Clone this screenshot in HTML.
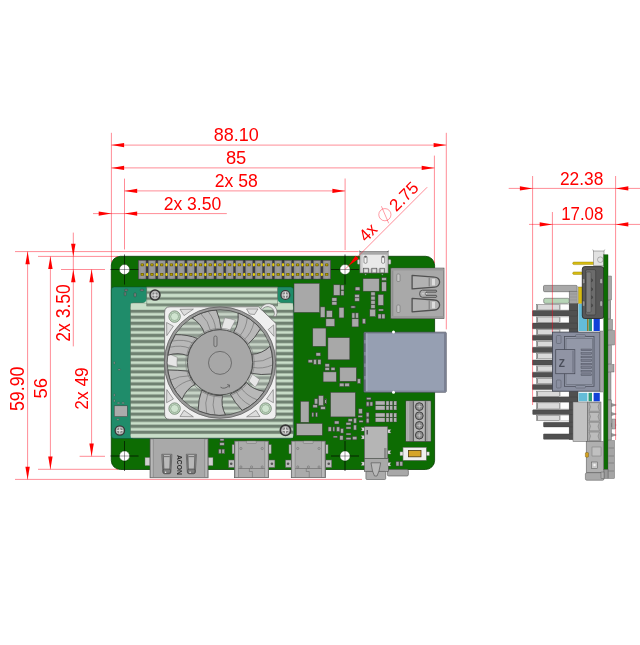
<!DOCTYPE html>
<html><head><meta charset="utf-8"><style>
html,body{margin:0;padding:0;background:#fff;}
svg{display:block;will-change:transform;}
text{font-family:"Liberation Sans",sans-serif;}
</style></head><body>
<svg width="640" height="645" viewBox="0 0 640 645">
<rect width="640" height="645" fill="#fff"/>
<rect x="111.3" y="256.3" width="323.3" height="213.2" fill="#0d6c03" stroke="#073d02" stroke-width="0.8" rx="9"/>
<circle cx="124.5" cy="269.5" r="5.1" fill="#ffffff" stroke="#0a4a04" stroke-width="0.5"/>
<circle cx="345" cy="269.5" r="5.1" fill="#ffffff" stroke="#0a4a04" stroke-width="0.5"/>
<circle cx="124.5" cy="456" r="5.1" fill="#ffffff" stroke="#0a4a04" stroke-width="0.5"/>
<circle cx="345" cy="456" r="5.1" fill="#ffffff" stroke="#0a4a04" stroke-width="0.5"/>
<line x1="110.5" y1="269.5" x2="138.5" y2="269.5" stroke="rgba(0,0,0,0.75)" stroke-width="0.5"/>
<line x1="124.5" y1="254.5" x2="124.5" y2="284.5" stroke="rgba(0,0,0,0.75)" stroke-width="0.5"/>
<line x1="331" y1="269.5" x2="359" y2="269.5" stroke="rgba(0,0,0,0.75)" stroke-width="0.5"/>
<line x1="345" y1="254.5" x2="345" y2="284.5" stroke="rgba(0,0,0,0.75)" stroke-width="0.5"/>
<line x1="110.5" y1="456" x2="138.5" y2="456" stroke="rgba(0,0,0,0.75)" stroke-width="0.5"/>
<line x1="124.5" y1="441" x2="124.5" y2="471" stroke="rgba(0,0,0,0.75)" stroke-width="0.5"/>
<line x1="331" y1="456" x2="359" y2="456" stroke="rgba(0,0,0,0.75)" stroke-width="0.5"/>
<line x1="345" y1="441" x2="345" y2="471" stroke="rgba(0,0,0,0.75)" stroke-width="0.5"/>
<rect x="138.5" y="260.3" width="191.99" height="18.7" fill="#38383f" stroke="#2a2a2a" stroke-width="0.5"/>
<rect x="138.5" y="260.3" width="7.5" height="18.7" fill="#959595" stroke="#4a4a4a" stroke-width="0.5"/>
<rect x="140.8" y="261" width="2.9" height="17.4" fill="#9b9b9b"/>
<rect x="148.21" y="260.3" width="7.5" height="18.7" fill="#959595" stroke="#4a4a4a" stroke-width="0.5"/>
<rect x="150.51" y="261" width="2.9" height="17.4" fill="#9b9b9b"/>
<rect x="157.92" y="260.3" width="7.5" height="18.7" fill="#959595" stroke="#4a4a4a" stroke-width="0.5"/>
<rect x="160.22" y="261" width="2.9" height="17.4" fill="#9b9b9b"/>
<rect x="167.63" y="260.3" width="7.5" height="18.7" fill="#959595" stroke="#4a4a4a" stroke-width="0.5"/>
<rect x="169.93" y="261" width="2.9" height="17.4" fill="#9b9b9b"/>
<rect x="177.34" y="260.3" width="7.5" height="18.7" fill="#959595" stroke="#4a4a4a" stroke-width="0.5"/>
<rect x="179.64" y="261" width="2.9" height="17.4" fill="#9b9b9b"/>
<rect x="187.05" y="260.3" width="7.5" height="18.7" fill="#959595" stroke="#4a4a4a" stroke-width="0.5"/>
<rect x="189.35" y="261" width="2.9" height="17.4" fill="#9b9b9b"/>
<rect x="196.76" y="260.3" width="7.5" height="18.7" fill="#959595" stroke="#4a4a4a" stroke-width="0.5"/>
<rect x="199.06" y="261" width="2.9" height="17.4" fill="#9b9b9b"/>
<rect x="206.47" y="260.3" width="7.5" height="18.7" fill="#959595" stroke="#4a4a4a" stroke-width="0.5"/>
<rect x="208.77" y="261" width="2.9" height="17.4" fill="#9b9b9b"/>
<rect x="216.18" y="260.3" width="7.5" height="18.7" fill="#959595" stroke="#4a4a4a" stroke-width="0.5"/>
<rect x="218.48" y="261" width="2.9" height="17.4" fill="#9b9b9b"/>
<rect x="225.89" y="260.3" width="7.5" height="18.7" fill="#959595" stroke="#4a4a4a" stroke-width="0.5"/>
<rect x="228.19" y="261" width="2.9" height="17.4" fill="#9b9b9b"/>
<rect x="235.6" y="260.3" width="7.5" height="18.7" fill="#959595" stroke="#4a4a4a" stroke-width="0.5"/>
<rect x="237.9" y="261" width="2.9" height="17.4" fill="#9b9b9b"/>
<rect x="245.31" y="260.3" width="7.5" height="18.7" fill="#959595" stroke="#4a4a4a" stroke-width="0.5"/>
<rect x="247.61" y="261" width="2.9" height="17.4" fill="#9b9b9b"/>
<rect x="255.02" y="260.3" width="7.5" height="18.7" fill="#959595" stroke="#4a4a4a" stroke-width="0.5"/>
<rect x="257.32" y="261" width="2.9" height="17.4" fill="#9b9b9b"/>
<rect x="264.73" y="260.3" width="7.5" height="18.7" fill="#959595" stroke="#4a4a4a" stroke-width="0.5"/>
<rect x="267.03" y="261" width="2.9" height="17.4" fill="#9b9b9b"/>
<rect x="274.44" y="260.3" width="7.5" height="18.7" fill="#959595" stroke="#4a4a4a" stroke-width="0.5"/>
<rect x="276.74" y="261" width="2.9" height="17.4" fill="#9b9b9b"/>
<rect x="284.15" y="260.3" width="7.5" height="18.7" fill="#959595" stroke="#4a4a4a" stroke-width="0.5"/>
<rect x="286.45" y="261" width="2.9" height="17.4" fill="#9b9b9b"/>
<rect x="293.86" y="260.3" width="7.5" height="18.7" fill="#959595" stroke="#4a4a4a" stroke-width="0.5"/>
<rect x="296.16" y="261" width="2.9" height="17.4" fill="#9b9b9b"/>
<rect x="303.57" y="260.3" width="7.5" height="18.7" fill="#959595" stroke="#4a4a4a" stroke-width="0.5"/>
<rect x="305.87" y="261" width="2.9" height="17.4" fill="#9b9b9b"/>
<rect x="313.28" y="260.3" width="7.5" height="18.7" fill="#959595" stroke="#4a4a4a" stroke-width="0.5"/>
<rect x="315.58" y="261" width="2.9" height="17.4" fill="#9b9b9b"/>
<rect x="322.99" y="260.3" width="7.5" height="18.7" fill="#959595" stroke="#4a4a4a" stroke-width="0.5"/>
<rect x="325.29" y="261" width="2.9" height="17.4" fill="#9b9b9b"/>
<rect x="140.65" y="263.4" width="3.2" height="2.8" fill="#6a5c00" rx="0.6"/>
<circle cx="142.25" cy="264.8" r="1" fill="#b8a200"/>
<ellipse cx="147.1" cy="264.8" rx="1.1" ry="1.7" fill="#e6d010"/>
<rect x="140.65" y="273" width="3.2" height="2.8" fill="#6a5c00" rx="0.6"/>
<circle cx="142.25" cy="274.4" r="1" fill="#b8a200"/>
<ellipse cx="147.1" cy="274.4" rx="1.1" ry="1.7" fill="#e6d010"/>
<rect x="150.36" y="263.4" width="3.2" height="2.8" fill="#6a5c00" rx="0.6"/>
<circle cx="151.96" cy="264.8" r="1" fill="#b8a200"/>
<ellipse cx="156.81" cy="264.8" rx="1.1" ry="1.7" fill="#e6d010"/>
<rect x="150.36" y="273" width="3.2" height="2.8" fill="#6a5c00" rx="0.6"/>
<circle cx="151.96" cy="274.4" r="1" fill="#b8a200"/>
<ellipse cx="156.81" cy="274.4" rx="1.1" ry="1.7" fill="#e6d010"/>
<rect x="160.07" y="263.4" width="3.2" height="2.8" fill="#6a5c00" rx="0.6"/>
<circle cx="161.67" cy="264.8" r="1" fill="#b8a200"/>
<ellipse cx="166.52" cy="264.8" rx="1.1" ry="1.7" fill="#e6d010"/>
<rect x="160.07" y="273" width="3.2" height="2.8" fill="#6a5c00" rx="0.6"/>
<circle cx="161.67" cy="274.4" r="1" fill="#b8a200"/>
<ellipse cx="166.52" cy="274.4" rx="1.1" ry="1.7" fill="#e6d010"/>
<rect x="169.78" y="263.4" width="3.2" height="2.8" fill="#6a5c00" rx="0.6"/>
<circle cx="171.38" cy="264.8" r="1" fill="#b8a200"/>
<ellipse cx="176.23" cy="264.8" rx="1.1" ry="1.7" fill="#e6d010"/>
<rect x="169.78" y="273" width="3.2" height="2.8" fill="#6a5c00" rx="0.6"/>
<circle cx="171.38" cy="274.4" r="1" fill="#b8a200"/>
<ellipse cx="176.23" cy="274.4" rx="1.1" ry="1.7" fill="#e6d010"/>
<rect x="179.49" y="263.4" width="3.2" height="2.8" fill="#6a5c00" rx="0.6"/>
<circle cx="181.09" cy="264.8" r="1" fill="#b8a200"/>
<ellipse cx="185.94" cy="264.8" rx="1.1" ry="1.7" fill="#e6d010"/>
<rect x="179.49" y="273" width="3.2" height="2.8" fill="#6a5c00" rx="0.6"/>
<circle cx="181.09" cy="274.4" r="1" fill="#b8a200"/>
<ellipse cx="185.94" cy="274.4" rx="1.1" ry="1.7" fill="#e6d010"/>
<rect x="189.2" y="263.4" width="3.2" height="2.8" fill="#6a5c00" rx="0.6"/>
<circle cx="190.8" cy="264.8" r="1" fill="#b8a200"/>
<ellipse cx="195.65" cy="264.8" rx="1.1" ry="1.7" fill="#e6d010"/>
<rect x="189.2" y="273" width="3.2" height="2.8" fill="#6a5c00" rx="0.6"/>
<circle cx="190.8" cy="274.4" r="1" fill="#b8a200"/>
<ellipse cx="195.65" cy="274.4" rx="1.1" ry="1.7" fill="#e6d010"/>
<rect x="198.91" y="263.4" width="3.2" height="2.8" fill="#6a5c00" rx="0.6"/>
<circle cx="200.51" cy="264.8" r="1" fill="#b8a200"/>
<ellipse cx="205.36" cy="264.8" rx="1.1" ry="1.7" fill="#e6d010"/>
<rect x="198.91" y="273" width="3.2" height="2.8" fill="#6a5c00" rx="0.6"/>
<circle cx="200.51" cy="274.4" r="1" fill="#b8a200"/>
<ellipse cx="205.36" cy="274.4" rx="1.1" ry="1.7" fill="#e6d010"/>
<rect x="208.62" y="263.4" width="3.2" height="2.8" fill="#6a5c00" rx="0.6"/>
<circle cx="210.22" cy="264.8" r="1" fill="#b8a200"/>
<ellipse cx="215.07" cy="264.8" rx="1.1" ry="1.7" fill="#e6d010"/>
<rect x="208.62" y="273" width="3.2" height="2.8" fill="#6a5c00" rx="0.6"/>
<circle cx="210.22" cy="274.4" r="1" fill="#b8a200"/>
<ellipse cx="215.07" cy="274.4" rx="1.1" ry="1.7" fill="#e6d010"/>
<rect x="218.33" y="263.4" width="3.2" height="2.8" fill="#6a5c00" rx="0.6"/>
<circle cx="219.93" cy="264.8" r="1" fill="#b8a200"/>
<ellipse cx="224.78" cy="264.8" rx="1.1" ry="1.7" fill="#e6d010"/>
<rect x="218.33" y="273" width="3.2" height="2.8" fill="#6a5c00" rx="0.6"/>
<circle cx="219.93" cy="274.4" r="1" fill="#b8a200"/>
<ellipse cx="224.78" cy="274.4" rx="1.1" ry="1.7" fill="#e6d010"/>
<rect x="228.04" y="263.4" width="3.2" height="2.8" fill="#6a5c00" rx="0.6"/>
<circle cx="229.64" cy="264.8" r="1" fill="#b8a200"/>
<ellipse cx="234.49" cy="264.8" rx="1.1" ry="1.7" fill="#e6d010"/>
<rect x="228.04" y="273" width="3.2" height="2.8" fill="#6a5c00" rx="0.6"/>
<circle cx="229.64" cy="274.4" r="1" fill="#b8a200"/>
<ellipse cx="234.49" cy="274.4" rx="1.1" ry="1.7" fill="#e6d010"/>
<rect x="237.75" y="263.4" width="3.2" height="2.8" fill="#6a5c00" rx="0.6"/>
<circle cx="239.35" cy="264.8" r="1" fill="#b8a200"/>
<ellipse cx="244.2" cy="264.8" rx="1.1" ry="1.7" fill="#e6d010"/>
<rect x="237.75" y="273" width="3.2" height="2.8" fill="#6a5c00" rx="0.6"/>
<circle cx="239.35" cy="274.4" r="1" fill="#b8a200"/>
<ellipse cx="244.2" cy="274.4" rx="1.1" ry="1.7" fill="#e6d010"/>
<rect x="247.46" y="263.4" width="3.2" height="2.8" fill="#6a5c00" rx="0.6"/>
<circle cx="249.06" cy="264.8" r="1" fill="#b8a200"/>
<ellipse cx="253.91" cy="264.8" rx="1.1" ry="1.7" fill="#e6d010"/>
<rect x="247.46" y="273" width="3.2" height="2.8" fill="#6a5c00" rx="0.6"/>
<circle cx="249.06" cy="274.4" r="1" fill="#b8a200"/>
<ellipse cx="253.91" cy="274.4" rx="1.1" ry="1.7" fill="#e6d010"/>
<rect x="257.17" y="263.4" width="3.2" height="2.8" fill="#6a5c00" rx="0.6"/>
<circle cx="258.77" cy="264.8" r="1" fill="#b8a200"/>
<ellipse cx="263.62" cy="264.8" rx="1.1" ry="1.7" fill="#e6d010"/>
<rect x="257.17" y="273" width="3.2" height="2.8" fill="#6a5c00" rx="0.6"/>
<circle cx="258.77" cy="274.4" r="1" fill="#b8a200"/>
<ellipse cx="263.62" cy="274.4" rx="1.1" ry="1.7" fill="#e6d010"/>
<rect x="266.88" y="263.4" width="3.2" height="2.8" fill="#6a5c00" rx="0.6"/>
<circle cx="268.48" cy="264.8" r="1" fill="#b8a200"/>
<ellipse cx="273.33" cy="264.8" rx="1.1" ry="1.7" fill="#e6d010"/>
<rect x="266.88" y="273" width="3.2" height="2.8" fill="#6a5c00" rx="0.6"/>
<circle cx="268.48" cy="274.4" r="1" fill="#b8a200"/>
<ellipse cx="273.33" cy="274.4" rx="1.1" ry="1.7" fill="#e6d010"/>
<rect x="276.59" y="263.4" width="3.2" height="2.8" fill="#6a5c00" rx="0.6"/>
<circle cx="278.19" cy="264.8" r="1" fill="#b8a200"/>
<ellipse cx="283.04" cy="264.8" rx="1.1" ry="1.7" fill="#e6d010"/>
<rect x="276.59" y="273" width="3.2" height="2.8" fill="#6a5c00" rx="0.6"/>
<circle cx="278.19" cy="274.4" r="1" fill="#b8a200"/>
<ellipse cx="283.04" cy="274.4" rx="1.1" ry="1.7" fill="#e6d010"/>
<rect x="286.3" y="263.4" width="3.2" height="2.8" fill="#6a5c00" rx="0.6"/>
<circle cx="287.9" cy="264.8" r="1" fill="#b8a200"/>
<ellipse cx="292.75" cy="264.8" rx="1.1" ry="1.7" fill="#e6d010"/>
<rect x="286.3" y="273" width="3.2" height="2.8" fill="#6a5c00" rx="0.6"/>
<circle cx="287.9" cy="274.4" r="1" fill="#b8a200"/>
<ellipse cx="292.75" cy="274.4" rx="1.1" ry="1.7" fill="#e6d010"/>
<rect x="296.01" y="263.4" width="3.2" height="2.8" fill="#6a5c00" rx="0.6"/>
<circle cx="297.61" cy="264.8" r="1" fill="#b8a200"/>
<ellipse cx="302.46" cy="264.8" rx="1.1" ry="1.7" fill="#e6d010"/>
<rect x="296.01" y="273" width="3.2" height="2.8" fill="#6a5c00" rx="0.6"/>
<circle cx="297.61" cy="274.4" r="1" fill="#b8a200"/>
<ellipse cx="302.46" cy="274.4" rx="1.1" ry="1.7" fill="#e6d010"/>
<rect x="305.72" y="263.4" width="3.2" height="2.8" fill="#6a5c00" rx="0.6"/>
<circle cx="307.32" cy="264.8" r="1" fill="#b8a200"/>
<ellipse cx="312.17" cy="264.8" rx="1.1" ry="1.7" fill="#e6d010"/>
<rect x="305.72" y="273" width="3.2" height="2.8" fill="#6a5c00" rx="0.6"/>
<circle cx="307.32" cy="274.4" r="1" fill="#b8a200"/>
<ellipse cx="312.17" cy="274.4" rx="1.1" ry="1.7" fill="#e6d010"/>
<rect x="315.43" y="263.4" width="3.2" height="2.8" fill="#6a5c00" rx="0.6"/>
<circle cx="317.03" cy="264.8" r="1" fill="#b8a200"/>
<ellipse cx="321.88" cy="264.8" rx="1.1" ry="1.7" fill="#e6d010"/>
<rect x="315.43" y="273" width="3.2" height="2.8" fill="#6a5c00" rx="0.6"/>
<circle cx="317.03" cy="274.4" r="1" fill="#b8a200"/>
<ellipse cx="321.88" cy="274.4" rx="1.1" ry="1.7" fill="#e6d010"/>
<rect x="325.14" y="263.4" width="3.2" height="2.8" fill="#6a5c00" rx="0.6"/>
<circle cx="326.74" cy="264.8" r="1" fill="#b8a200"/>
<rect x="325.14" y="273" width="3.2" height="2.8" fill="#6a5c00" rx="0.6"/>
<circle cx="326.74" cy="274.4" r="1" fill="#b8a200"/>
<rect x="111.3" y="286.9" width="182.3" height="151.6" fill="#1f8c6a" stroke="#0c4a33" stroke-width="0.5" rx="3"/>
<rect x="124.6" y="289.3" width="3" height="1.6" fill="#8c8c8c" stroke="#2f4a40" stroke-width="0.6" rx="0.5"/>
<rect x="140.3" y="289.3" width="3.3" height="1.6" fill="#8c8c8c" stroke="#2f4a40" stroke-width="0.6" rx="0.5"/>
<rect x="124.3" y="292" width="1.6" height="3.7" fill="#8c8c8c" stroke="#2f4a40" stroke-width="0.6" rx="0.5"/>
<rect x="134.1" y="293" width="1.9" height="3.7" fill="#8c8c8c" stroke="#2f4a40" stroke-width="0.6" rx="0.5"/>
<rect x="114.2" y="405.8" width="13.1" height="10.9" fill="#ababab" stroke="#3a3a3a" stroke-width="0.5"/>
<rect x="117.2" y="402.2" width="2.6" height="1.6" fill="#8a9a94" stroke="#2f5748" stroke-width="0.4" rx="0.6"/>
<rect x="121.8" y="402.2" width="2.6" height="1.6" fill="#8a9a94" stroke="#2f5748" stroke-width="0.4" rx="0.6"/>
<rect x="116.5" y="418.8" width="2.7" height="1.5" fill="#8a9a94" stroke="#2f5748" stroke-width="0.4" rx="0.6"/>
<rect x="113.7" y="361.6" width="1.3" height="2.6" fill="#8a9a94" stroke="#2f5748" stroke-width="0.4" rx="0.6"/>
<rect x="117.9" y="369" width="2.6" height="1.3" fill="#8a9a94" stroke="#2f5748" stroke-width="0.4" rx="0.6"/>
<rect x="113.7" y="393.8" width="1.3" height="2.5" fill="#8a9a94" stroke="#2f5748" stroke-width="0.4" rx="0.6"/>
<rect x="113.7" y="399.4" width="1.3" height="2.5" fill="#8a9a94" stroke="#2f5748" stroke-width="0.4" rx="0.6"/>
<defs><pattern id="hs" patternUnits="userSpaceOnUse" x="0" y="308.2" width="10" height="6.055"><rect x="0" y="0" width="10" height="6.055" fill="#c9dec9"/><rect x="0" y="1.6" width="10" height="2.9" fill="#6f8171"/><rect x="0" y="1.2" width="10" height="0.5" fill="#99ab9a"/><rect x="0" y="4.4" width="10" height="0.6" fill="#9fb29f"/></pattern><pattern id="hs2" patternUnits="userSpaceOnUse" x="0" y="288.05" width="10" height="6.1"><rect x="0" y="0" width="10" height="6.1" fill="#c9dec9"/><rect x="0" y="3.2" width="10" height="2.5" fill="#748676"/><rect x="0" y="2.8" width="10" height="0.5" fill="#a0b2a0"/></pattern></defs>
<rect x="130.5" y="302.9" width="162.7" height="135.1" fill="url(#hs)" stroke="#5f6f60" stroke-width="0.6" rx="3"/>
<rect x="130.8" y="303.4" width="162.1" height="6.1" fill="#c9dec9"/>
<rect x="146.8" y="287" width="130.8" height="19" fill="url(#hs2)" stroke="#5f6f60" stroke-width="0.6"/>
<rect x="147.1" y="287.3" width="130.2" height="0.9" fill="#8a9a8a"/>
<path d="M142.4 302.9 A4.2 4.2 0 0 0 146.6 298.7 L146.6 302.9 Z" fill="#c9dec9"/>
<path d="M277.6 298.7 A4.2 4.2 0 0 0 281.8 302.9 L277.6 302.9 Z" fill="#c9dec9"/>
<rect x="130.8" y="434.2" width="162.1" height="3.5" fill="#c9dec9"/>
<circle cx="155" cy="295.1" r="5" fill="#b4b4b4" stroke="#363636" stroke-width="1.5"/>
<line x1="151.9" y1="295.1" x2="158.1" y2="295.1" stroke="#dcdcdc" stroke-width="1.3"/>
<line x1="155" y1="292" x2="155" y2="298.2" stroke="#dcdcdc" stroke-width="1.3"/>
<path d="M153.9 292.5 L153.9 294 L152.4 294" fill="none" stroke="#555" stroke-width="0.6"/>
<path d="M156.1 292.5 L156.1 294 L157.6 294" fill="none" stroke="#555" stroke-width="0.6"/>
<path d="M153.9 297.7 L153.9 296.2 L152.4 296.2" fill="none" stroke="#555" stroke-width="0.6"/>
<path d="M156.1 297.7 L156.1 296.2 L157.6 296.2" fill="none" stroke="#555" stroke-width="0.6"/>
<circle cx="285.4" cy="295" r="4.5" fill="#b4b4b4" stroke="#363636" stroke-width="1.2"/>
<line x1="282.3" y1="295" x2="288.5" y2="295" stroke="#dcdcdc" stroke-width="1.3"/>
<line x1="285.4" y1="291.9" x2="285.4" y2="298.1" stroke="#dcdcdc" stroke-width="1.3"/>
<path d="M284.3 292.4 L284.3 293.9 L282.8 293.9" fill="none" stroke="#555" stroke-width="0.6"/>
<path d="M286.5 292.4 L286.5 293.9 L288 293.9" fill="none" stroke="#555" stroke-width="0.6"/>
<path d="M284.3 297.6 L284.3 296.1 L282.8 296.1" fill="none" stroke="#555" stroke-width="0.6"/>
<path d="M286.5 297.6 L286.5 296.1 L288 296.1" fill="none" stroke="#555" stroke-width="0.6"/>
<circle cx="119.8" cy="430.5" r="4.7" fill="#b4b4b4" stroke="#363636" stroke-width="1.32"/>
<line x1="116.7" y1="430.5" x2="122.9" y2="430.5" stroke="#dcdcdc" stroke-width="1.3"/>
<line x1="119.8" y1="427.4" x2="119.8" y2="433.6" stroke="#dcdcdc" stroke-width="1.3"/>
<path d="M118.7 427.9 L118.7 429.4 L117.2 429.4" fill="none" stroke="#555" stroke-width="0.6"/>
<path d="M120.9 427.9 L120.9 429.4 L122.4 429.4" fill="none" stroke="#555" stroke-width="0.6"/>
<path d="M118.7 433.1 L118.7 431.6 L117.2 431.6" fill="none" stroke="#555" stroke-width="0.6"/>
<path d="M120.9 433.1 L120.9 431.6 L122.4 431.6" fill="none" stroke="#555" stroke-width="0.6"/>
<circle cx="285.5" cy="430.3" r="5.2" fill="#b4b4b4" stroke="#363636" stroke-width="1.62"/>
<line x1="282.4" y1="430.3" x2="288.6" y2="430.3" stroke="#dcdcdc" stroke-width="1.3"/>
<line x1="285.5" y1="427.2" x2="285.5" y2="433.4" stroke="#dcdcdc" stroke-width="1.3"/>
<path d="M284.4 427.7 L284.4 429.2 L282.9 429.2" fill="none" stroke="#555" stroke-width="0.6"/>
<path d="M286.6 427.7 L286.6 429.2 L288.1 429.2" fill="none" stroke="#555" stroke-width="0.6"/>
<path d="M284.4 432.9 L284.4 431.4 L282.9 431.4" fill="none" stroke="#555" stroke-width="0.6"/>
<path d="M286.6 432.9 L286.6 431.4 L288.1 431.4" fill="none" stroke="#555" stroke-width="0.6"/>
<path d="M170.0 306.8 H258.5 L276.0 323.5 V414.3 Q276 419.3 271.0 419.3 H169.6 Q164.6 419.3 164.6 414.3 V312.2 Q164.6 306.8 170.0 306.8 Z" fill="#efefef" stroke="#6a6a6a" stroke-width="0.8"/>
<circle cx="220" cy="362.6" r="54.5" fill="url(#hs)"/>
<circle cx="220" cy="362.6" r="54.5" fill="rgba(196,198,196,0.38)"/>
<path d="M221.15 329.62 L224.7 317.85 A45 45 0 0 1 235.39 320.31 L229.65 331.04 A33 33 0 0 0 221.15 329.62 Z" fill="#e6e6e6" stroke="#7a7a7a" stroke-width="0.5"/>
<path d="M251.2 373.34 L259.58 379.4 A43 43 0 0 1 255.22 387.26 L247.99 380.09 A33 33 0 0 0 251.2 373.34 Z" fill="#e6e6e6" stroke="#7a7a7a" stroke-width="0.5"/>
<path d="M177.24 367.09 L167.03 364.45 A53 53 0 0 1 167.81 353.4 L177.32 357.36 A43 43 0 0 0 177.24 367.09 Z" fill="#e6e6e6" stroke="#7a7a7a" stroke-width="0.5"/>
<path d="M180.0 309.3 L193.4 309.1 L184.0 315.6 Z" fill="#dcdcdc" stroke="#6a6a6a" stroke-width="0.6" stroke-linejoin="round"/>
<path d="M166.6 322.5 L173.4 326.2 L166.8 335.6 Z" fill="#dcdcdc" stroke="#6a6a6a" stroke-width="0.6" stroke-linejoin="round"/>
<path d="M246.5 308.9 L258.0 308.9 L254.5 314.5 L249.5 314.0 Z" fill="#dcdcdc" stroke="#6a6a6a" stroke-width="0.6" stroke-linejoin="round"/>
<path d="M273.7 324.9 L274.0 336.3 L268.2 329.6 Z" fill="#dcdcdc" stroke="#6a6a6a" stroke-width="0.6" stroke-linejoin="round"/>
<path d="M166.6 402.7 L173.4 399.0 L166.8 389.6 Z" fill="#dcdcdc" stroke="#6a6a6a" stroke-width="0.6" stroke-linejoin="round"/>
<path d="M180.0 416.6 L193.4 416.8 L184.0 410.3 Z" fill="#dcdcdc" stroke="#6a6a6a" stroke-width="0.6" stroke-linejoin="round"/>
<path d="M260.0 416.6 L246.6 416.8 L256.0 410.3 Z" fill="#dcdcdc" stroke="#6a6a6a" stroke-width="0.6" stroke-linejoin="round"/>
<path d="M273.4 402.7 L266.6 399.0 L273.2 389.6 Z" fill="#dcdcdc" stroke="#6a6a6a" stroke-width="0.6" stroke-linejoin="round"/>
<circle cx="174.6" cy="316.6" r="5.7" fill="#c3dcc3" stroke="#5a6e5a" stroke-width="0.7"/>
<circle cx="174.6" cy="316.6" r="4" fill="#cfe4cf" stroke="#6e826e" stroke-width="0.5"/>
<circle cx="174.6" cy="408.6" r="5.7" fill="#c3dcc3" stroke="#5a6e5a" stroke-width="0.7"/>
<circle cx="174.6" cy="408.6" r="4" fill="#cfe4cf" stroke="#6e826e" stroke-width="0.5"/>
<circle cx="265.6" cy="408.6" r="5.7" fill="#c3dcc3" stroke="#5a6e5a" stroke-width="0.7"/>
<circle cx="265.6" cy="408.6" r="4" fill="#cfe4cf" stroke="#6e826e" stroke-width="0.5"/>
<path d="M260.8 308.2 A8.2 8.2 0 0 1 276.0 316.4 L273.6 316.6 A6.0 6.0 0 0 0 261.6 310.2 Z" fill="#e8e8e8" stroke="#6a6a6a" stroke-width="0.6"/>
<path d="M204.51 333.46 Q201.53 323.88 192.02 317.82 A52.8 52.8 0 0 1 216.32 309.93 Q220.37 319.7 221.15 329.62 A33 33 0 0 0 204.51 333.46 Z" fill="#b8b8b8" stroke="#444" stroke-width="0.9"/>
<path d="M210.43 330.5 Q208.55 321.26 200.95 313.89" fill="none" stroke="#6a6a6a" stroke-width="0.6"/>
<path d="M215.57 329.39 Q214.94 320 208.27 311.63" fill="none" stroke="#6a6a6a" stroke-width="0.6"/>
<path d="M233.42 332.45 Q239.14 324.21 238.06 312.98 A52.8 52.8 0 0 1 260.45 328.66 Q255.14 337.99 247.68 344.63 A33 33 0 0 0 233.42 332.45 Z" fill="#b8b8b8" stroke="#444" stroke-width="0.9"/>
<path d="M239.95 335.68 Q246.1 328.55 247.25 317.96" fill="none" stroke="#6a6a6a" stroke-width="0.6"/>
<path d="M244.28 339.51 Q251.33 333.3 253.9 322.77" fill="none" stroke="#6a6a6a" stroke-width="0.6"/>
<path d="M251.95 354.34 Q262 353.86 270.22 346.28 A52.8 52.8 0 0 1 271.55 374.03 Q260.97 375.32 251.2 373.34 A33 33 0 0 0 251.95 354.34 Z" fill="#b8b8b8" stroke="#444" stroke-width="0.9"/>
<path d="M253.48 361.57 Q262.9 362.16 271.97 356.76" fill="none" stroke="#6a6a6a" stroke-width="0.6"/>
<path d="M253.15 367.42 Q262.37 369.32 272.24 365.1" fill="none" stroke="#6a6a6a" stroke-width="0.6"/>
<path d="M246.35 382.46 Q253.1 389.89 264.28 391.36 A52.8 52.8 0 0 1 242.31 410.45 Q234.67 402.91 230.2 393.98 A33 33 0 0 0 246.35 382.46 Z" fill="#b8b8b8" stroke="#444" stroke-width="0.9"/>
<path d="M241.4 388.37 Q246.86 396.05 256.88 399.68" fill="none" stroke="#6a6a6a" stroke-width="0.6"/>
<path d="M236.34 391.84 Q240.61 400.22 250.18 405.32" fill="none" stroke="#6a6a6a" stroke-width="0.6"/>
<path d="M222.59 395.5 Q220.56 405.5 225.52 415.11 A52.8 52.8 0 0 1 198.1 410.65 Q198.23 399.56 201.79 390.12 A33 33 0 0 0 222.59 395.5 Z" fill="#b8b8b8" stroke="#444" stroke-width="0.9"/>
<path d="M214.22 395.6 Q211.62 404.67 214.91 414.65" fill="none" stroke="#6a6a6a" stroke-width="0.6"/>
<path d="M207.81 393.8 Q204.25 402.5 206.69 413.18" fill="none" stroke="#6a6a6a" stroke-width="0.6"/>
<path d="M195.09 384.25 Q186.19 389.01 182.02 399.28 A52.8 52.8 0 0 1 167.71 369.95 Q177.75 370.05 188.12 371.14 A33 33 0 0 0 195.09 384.25 Z" fill="#b8b8b8" stroke="#444" stroke-width="0.9"/>
<path d="M191.32 379.91 Q181.85 382.22 174.85 389" fill="none" stroke="#6a6a6a" stroke-width="0.6"/>
<path d="M189.24 375.86 Q179.18 375.8 170.71 380.08" fill="none" stroke="#6a6a6a" stroke-width="0.6"/>
<path d="M187.72 355.74 Q178.47 351.86 167.71 355.25 A52.8 52.8 0 0 1 175.22 334.62 Q187.62 334.46 197.49 338.47 A33 33 0 0 0 187.72 355.74 Z" fill="#b8b8b8" stroke="#444" stroke-width="0.9"/>
<path d="M189.71 348.28 Q181.03 344.67 170.02 347.2" fill="none" stroke="#6a6a6a" stroke-width="0.6"/>
<path d="M192.83 343 Q184.25 338.88 172.34 341.06" fill="none" stroke="#6a6a6a" stroke-width="0.6"/>
<circle cx="220" cy="362.6" r="54.3" fill="none" stroke="#9a9a9a" stroke-width="2.6"/>
<circle cx="220" cy="362.6" r="55.7" fill="none" stroke="#5e5e5e" stroke-width="0.8"/>
<circle cx="220" cy="362.6" r="52.9" fill="none" stroke="#4e4e4e" stroke-width="0.8"/>
<circle cx="220" cy="362.6" r="34.3" fill="none" stroke="#777" stroke-width="0.6"/>
<circle cx="220" cy="362.3" r="32.6" fill="#a7a7a7" stroke="#4a4a4a" stroke-width="0.9"/>
<circle cx="220" cy="362.9" r="11.5" fill="none" stroke="#555" stroke-width="0.7"/>
<rect x="213.9" y="336" width="3.1" height="10.6" fill="none" stroke="#555" stroke-width="0.7" rx="1.5"/>
<path d="M220.5 387.2 Q224.5 390 229.5 385.2 M227.2 384.6 L229.6 385.2 L229.2 387.5" fill="none" stroke="#555" stroke-width="0.8"/>
<rect x="294" y="283.3" width="25.6" height="29.1" fill="#a8a8a8" stroke="#3c3c3c" stroke-width="0.5"/>
<rect x="333.5" y="284.8" width="6.5" height="10.6" fill="#a8a8a8" stroke="#3c3c3c" stroke-width="0.5"/>
<rect x="340.9" y="285" width="3.1" height="5" fill="#a8a8a8" stroke="#3c3c3c" stroke-width="0.5"/>
<rect x="340.9" y="290.6" width="3.1" height="4.8" fill="#a8a8a8" stroke="#3c3c3c" stroke-width="0.5"/>
<rect x="331.9" y="297.8" width="5" height="3.4" fill="#a8a8a8" stroke="#3c3c3c" stroke-width="0.5"/>
<rect x="331.9" y="301.6" width="5" height="3.4" fill="#a8a8a8" stroke="#3c3c3c" stroke-width="0.5"/>
<rect x="320.3" y="306.9" width="4.7" height="10.4" fill="#a8a8a8" stroke="#3c3c3c" stroke-width="0.5"/>
<rect x="326.3" y="310.6" width="6" height="6.7" fill="#a8a8a8" stroke="#3c3c3c" stroke-width="0.5"/>
<rect x="339" y="307.5" width="5" height="10.4" fill="#a8a8a8" stroke="#3c3c3c" stroke-width="0.5"/>
<rect x="325.9" y="318.8" width="8.9" height="7.5" fill="#a8a8a8" stroke="#3c3c3c" stroke-width="0.5"/>
<rect x="312.8" y="328.1" width="13.2" height="18.2" fill="#a8a8a8" stroke="#3c3c3c" stroke-width="0.5"/>
<rect x="327.9" y="337.7" width="21.9" height="22.1" fill="#a8a8a8" stroke="#3c3c3c" stroke-width="0.5"/>
<rect x="355" y="287.3" width="5" height="3" fill="#a8a8a8" stroke="#3c3c3c" stroke-width="0.5"/>
<rect x="354.8" y="294.4" width="4.6" height="3.4" fill="#a8a8a8" stroke="#3c3c3c" stroke-width="0.5"/>
<rect x="354.8" y="297.9" width="4.6" height="3.3" fill="#a8a8a8" stroke="#3c3c3c" stroke-width="0.5"/>
<rect x="350.9" y="306" width="4.5" height="2.1" fill="#a8a8a8" stroke="#3c3c3c" stroke-width="0.5"/>
<rect x="351.9" y="312.9" width="3" height="5.2" fill="#a8a8a8" stroke="#3c3c3c" stroke-width="0.5"/>
<rect x="355.4" y="312.9" width="3.1" height="5.2" fill="#a8a8a8" stroke="#3c3c3c" stroke-width="0.5"/>
<rect x="351.9" y="318.8" width="6.9" height="8.1" fill="#a8a8a8" stroke="#3c3c3c" stroke-width="0.5"/>
<rect x="362.3" y="318.8" width="3.3" height="5" fill="#a8a8a8" stroke="#3c3c3c" stroke-width="0.5"/>
<rect x="363" y="278.6" width="16.2" height="12.6" fill="#a8a8a8" stroke="#3c3c3c" stroke-width="0.5"/>
<rect x="381.7" y="277.6" width="4.7" height="2.9" fill="#a8a8a8" stroke="#3c3c3c" stroke-width="0.5"/>
<rect x="381.7" y="281.9" width="4.7" height="9.3" fill="#a8a8a8" stroke="#3c3c3c" stroke-width="0.5"/>
<rect x="355.2" y="287" width="4.7" height="3.3" fill="#a8a8a8" stroke="#3c3c3c" stroke-width="0.5"/>
<rect x="370.9" y="292" width="4.2" height="3.8" fill="#a8a8a8" stroke="#3c3c3c" stroke-width="0.5"/>
<rect x="370.9" y="296.2" width="4.2" height="3.8" fill="#a8a8a8" stroke="#3c3c3c" stroke-width="0.5"/>
<rect x="370.9" y="300.4" width="4.2" height="3.8" fill="#a8a8a8" stroke="#3c3c3c" stroke-width="0.5"/>
<rect x="370.9" y="304.6" width="4.2" height="3.8" fill="#a8a8a8" stroke="#3c3c3c" stroke-width="0.5"/>
<rect x="378" y="294.5" width="5.6" height="10.8" fill="#a8a8a8" stroke="#3c3c3c" stroke-width="0.5"/>
<rect x="369.8" y="309.2" width="5.8" height="7.4" fill="#a8a8a8" stroke="#3c3c3c" stroke-width="0.5"/>
<rect x="378.5" y="309" width="4.9" height="2" fill="#a8a8a8" stroke="#3c3c3c" stroke-width="0.5"/>
<rect x="378" y="314" width="3.2" height="4.8" fill="#a8a8a8" stroke="#3c3c3c" stroke-width="0.5"/>
<rect x="381.8" y="314" width="3.2" height="4.8" fill="#a8a8a8" stroke="#3c3c3c" stroke-width="0.5"/>
<rect x="351" y="306" width="4" height="2" fill="#a8a8a8" stroke="#3c3c3c" stroke-width="0.5"/>
<rect x="316" y="352.8" width="4.6" height="3.2" fill="#a8a8a8" stroke="#3c3c3c" stroke-width="0.5"/>
<rect x="308.1" y="359.8" width="4.4" height="3" fill="#a8a8a8" stroke="#3c3c3c" stroke-width="0.5"/>
<rect x="313.5" y="359.4" width="3" height="5" fill="#a8a8a8" stroke="#3c3c3c" stroke-width="0.5"/>
<rect x="317.8" y="359.4" width="3.2" height="5" fill="#a8a8a8" stroke="#3c3c3c" stroke-width="0.5"/>
<rect x="325" y="363.8" width="4.4" height="3.1" fill="#a8a8a8" stroke="#3c3c3c" stroke-width="0.5"/>
<rect x="325" y="367.5" width="4.4" height="2.8" fill="#a8a8a8" stroke="#3c3c3c" stroke-width="0.5"/>
<rect x="331" y="367.3" width="4" height="3" fill="#a8a8a8" stroke="#3c3c3c" stroke-width="0.5"/>
<rect x="323.1" y="371.9" width="13.2" height="10" fill="#a8a8a8" stroke="#3c3c3c" stroke-width="0.5"/>
<rect x="339.8" y="367.3" width="16.5" height="14" fill="#a8a8a8" stroke="#3c3c3c" stroke-width="0.5"/>
<rect x="357.3" y="378.8" width="3.3" height="4.7" fill="#a8a8a8" stroke="#3c3c3c" stroke-width="0.5"/>
<rect x="339.4" y="383.1" width="4.6" height="3.4" fill="#a8a8a8" stroke="#3c3c3c" stroke-width="0.5"/>
<rect x="344.8" y="383.1" width="4.6" height="3.4" fill="#a8a8a8" stroke="#3c3c3c" stroke-width="0.5"/>
<rect x="330.6" y="392.3" width="24.7" height="24.6" fill="#a8a8a8" stroke="#3c3c3c" stroke-width="0.5"/>
<rect x="300.6" y="401.3" width="8.4" height="21" fill="#a8a8a8" stroke="#3c3c3c" stroke-width="0.5"/>
<rect x="314.4" y="398.8" width="3.4" height="5.2" fill="#a8a8a8" stroke="#3c3c3c" stroke-width="0.5"/>
<rect x="318.5" y="395.6" width="5" height="10" fill="#a8a8a8" stroke="#3c3c3c" stroke-width="0.5"/>
<rect x="324.8" y="398.8" width="1.7" height="5.2" fill="#a8a8a8" stroke="#3c3c3c" stroke-width="0.5"/>
<rect x="312.9" y="404.8" width="4.4" height="3" fill="#a8a8a8" stroke="#3c3c3c" stroke-width="0.5"/>
<rect x="320.6" y="406.5" width="4.7" height="2.9" fill="#a8a8a8" stroke="#3c3c3c" stroke-width="0.5"/>
<rect x="296.5" y="423.5" width="25.8" height="11.8" fill="#a8a8a8" stroke="#3c3c3c" stroke-width="0.5"/>
<rect x="311.9" y="412.5" width="1.9" height="4.4" fill="#a8a8a8" stroke="#3c3c3c" stroke-width="0.5"/>
<rect x="315.6" y="412.5" width="1.9" height="4.4" fill="#a8a8a8" stroke="#3c3c3c" stroke-width="0.5"/>
<rect x="334.4" y="421" width="4.6" height="3" fill="#a8a8a8" stroke="#3c3c3c" stroke-width="0.5"/>
<rect x="328.1" y="426.9" width="3.2" height="4.4" fill="#a8a8a8" stroke="#3c3c3c" stroke-width="0.5"/>
<rect x="332.9" y="426.9" width="1.9" height="4.4" fill="#a8a8a8" stroke="#3c3c3c" stroke-width="0.5"/>
<rect x="336.5" y="426.9" width="3.3" height="4.6" fill="#a8a8a8" stroke="#3c3c3c" stroke-width="0.5"/>
<rect x="340.6" y="428.5" width="2.9" height="4.6" fill="#a8a8a8" stroke="#3c3c3c" stroke-width="0.5"/>
<rect x="333.1" y="436" width="4.2" height="1.8" fill="#a8a8a8" stroke="#3c3c3c" stroke-width="0.5"/>
<rect x="339.8" y="435.6" width="3.3" height="4.4" fill="#a8a8a8" stroke="#3c3c3c" stroke-width="0.5"/>
<rect x="346" y="422.5" width="5" height="2.5" fill="#a8a8a8" stroke="#3c3c3c" stroke-width="0.5"/>
<rect x="346" y="426.9" width="5" height="2.1" fill="#a8a8a8" stroke="#3c3c3c" stroke-width="0.5"/>
<rect x="346" y="433.1" width="5" height="1.9" fill="#a8a8a8" stroke="#3c3c3c" stroke-width="0.5"/>
<rect x="346" y="437.5" width="5" height="2.3" fill="#a8a8a8" stroke="#3c3c3c" stroke-width="0.5"/>
<rect x="348.1" y="418.8" width="4.2" height="2.7" fill="#a8a8a8" stroke="#3c3c3c" stroke-width="0.5"/>
<rect x="353.5" y="418.1" width="3" height="5" fill="#a8a8a8" stroke="#3c3c3c" stroke-width="0.5"/>
<rect x="353.5" y="425" width="3" height="5" fill="#a8a8a8" stroke="#3c3c3c" stroke-width="0.5"/>
<rect x="352.5" y="436.5" width="4.4" height="3.3" fill="#a8a8a8" stroke="#3c3c3c" stroke-width="0.5"/>
<rect x="358.5" y="408.8" width="3.8" height="5" fill="#a8a8a8" stroke="#3c3c3c" stroke-width="0.5"/>
<rect x="358" y="415.3" width="4.5" height="2" fill="#a8a8a8" stroke="#3c3c3c" stroke-width="0.5"/>
<rect x="359" y="420.3" width="4.1" height="2" fill="#a8a8a8" stroke="#3c3c3c" stroke-width="0.5"/>
<rect x="366" y="412.5" width="3" height="5" fill="#a8a8a8" stroke="#3c3c3c" stroke-width="0.5"/>
<rect x="366" y="418" width="3" height="5.1" fill="#a8a8a8" stroke="#3c3c3c" stroke-width="0.5"/>
<rect x="366.3" y="401.9" width="3.1" height="4.4" fill="#a8a8a8" stroke="#3c3c3c" stroke-width="0.5"/>
<rect x="366.5" y="397.5" width="4.5" height="2.3" fill="#a8a8a8" stroke="#3c3c3c" stroke-width="0.5"/>
<rect x="366.3" y="401.9" width="2.7" height="4.1" fill="#a8a8a8" stroke="#3c3c3c" stroke-width="0.5"/>
<rect x="370" y="401.9" width="2.8" height="4.1" fill="#a8a8a8" stroke="#3c3c3c" stroke-width="0.5"/>
<rect x="366.3" y="412.8" width="2.7" height="4.1" fill="#a8a8a8" stroke="#3c3c3c" stroke-width="0.5"/>
<rect x="366.3" y="418.5" width="2.7" height="4.3" fill="#a8a8a8" stroke="#3c3c3c" stroke-width="0.5"/>
<rect x="396" y="461.5" width="3" height="4.5" fill="#a8a8a8" stroke="#3c3c3c" stroke-width="0.5"/>
<rect x="399.8" y="461.5" width="3" height="4.5" fill="#a8a8a8" stroke="#3c3c3c" stroke-width="0.5"/>
<rect x="220" y="438.8" width="4" height="2.1" fill="#a8a8a8" stroke="#3c3c3c" stroke-width="0.5"/>
<rect x="219.8" y="442.6" width="4.4" height="2.8" fill="#a8a8a8" stroke="#3c3c3c" stroke-width="0.5"/>
<rect x="218.6" y="449.1" width="2.6" height="4.5" fill="#a8a8a8" stroke="#3c3c3c" stroke-width="0.5"/>
<rect x="221.9" y="449.1" width="2.8" height="4.5" fill="#a8a8a8" stroke="#3c3c3c" stroke-width="0.5"/>
<rect x="375.3" y="401" width="9.7" height="4" fill="#b2b2b2" stroke="#3c3c3c" stroke-width="0.4"/>
<rect x="375.3" y="405.8" width="9.7" height="4.2" fill="#b2b2b2" stroke="#3c3c3c" stroke-width="0.4"/>
<rect x="386" y="401" width="3" height="4.2" fill="#b2b2b2" stroke="#3c3c3c" stroke-width="0.4"/>
<rect x="386" y="405.8" width="3" height="4.2" fill="#b2b2b2" stroke="#3c3c3c" stroke-width="0.4"/>
<rect x="389.8" y="401" width="3" height="4.2" fill="#b2b2b2" stroke="#3c3c3c" stroke-width="0.4"/>
<rect x="389.8" y="405.8" width="3" height="4.2" fill="#b2b2b2" stroke="#3c3c3c" stroke-width="0.4"/>
<rect x="393.8" y="401" width="3" height="4.2" fill="#b2b2b2" stroke="#3c3c3c" stroke-width="0.4"/>
<rect x="393.8" y="405.8" width="3" height="4.2" fill="#b2b2b2" stroke="#3c3c3c" stroke-width="0.4"/>
<rect x="375.3" y="413" width="9.7" height="4" fill="#b2b2b2" stroke="#3c3c3c" stroke-width="0.4"/>
<rect x="375.3" y="417.8" width="9.7" height="4.2" fill="#b2b2b2" stroke="#3c3c3c" stroke-width="0.4"/>
<rect x="386" y="413" width="3" height="4.2" fill="#b2b2b2" stroke="#3c3c3c" stroke-width="0.4"/>
<rect x="386" y="417.8" width="3" height="4.2" fill="#b2b2b2" stroke="#3c3c3c" stroke-width="0.4"/>
<rect x="389.8" y="413" width="3" height="4.2" fill="#b2b2b2" stroke="#3c3c3c" stroke-width="0.4"/>
<rect x="389.8" y="417.8" width="3" height="4.2" fill="#b2b2b2" stroke="#3c3c3c" stroke-width="0.4"/>
<rect x="393.8" y="413" width="3" height="4.2" fill="#b2b2b2" stroke="#3c3c3c" stroke-width="0.4"/>
<rect x="393.8" y="417.8" width="3" height="4.2" fill="#b2b2b2" stroke="#3c3c3c" stroke-width="0.4"/>
<rect x="357.4" y="259.6" width="2.6" height="4.7" fill="#d8d8d8" stroke="#666" stroke-width="0.4" rx="0.8"/>
<rect x="388" y="259.6" width="2.9" height="4.7" fill="#d8d8d8" stroke="#666" stroke-width="0.4" rx="0.8"/>
<rect x="359.9" y="251.4" width="28.2" height="21.6" fill="#cdcdcd" stroke="#5a5a5a" stroke-width="0.6"/>
<rect x="360.4" y="251.9" width="27.2" height="2.7" fill="#a8a8a8"/>
<rect x="362.7" y="254.9" width="22.6" height="13.7" fill="#e9e9e9"/>
<path d="M359.6 250.6 l0.8 1.6 M388.4 250.6 l-0.8 1.6" fill="none" stroke="#444" stroke-width="0.7"/>
<rect x="364" y="256.1" width="3" height="7.2" fill="#f2f2f2" stroke="#5a5a5a" stroke-width="0.6" rx="1.2"/>
<rect x="364.3" y="256.2" width="2.4" height="1.4" fill="#3a3a3a" rx="0.7"/>
<rect x="381.6" y="256.1" width="3" height="7.2" fill="#f2f2f2" stroke="#5a5a5a" stroke-width="0.6" rx="1.2"/>
<rect x="381.9" y="256.2" width="2.4" height="1.4" fill="#3a3a3a" rx="0.7"/>
<rect x="363.4" y="268.2" width="5.3" height="4.8" fill="#c4c4c4" stroke="#4a4a4a" stroke-width="0.6"/>
<rect x="364.6" y="269.6" width="2.9" height="2.4" fill="#e0e0e0"/>
<rect x="371.8" y="268.2" width="5" height="4.8" fill="#c4c4c4" stroke="#4a4a4a" stroke-width="0.6"/>
<rect x="373" y="269.6" width="2.6" height="2.4" fill="#e0e0e0"/>
<rect x="379.9" y="268.2" width="4.7" height="4.8" fill="#c4c4c4" stroke="#4a4a4a" stroke-width="0.6"/>
<rect x="381.1" y="269.6" width="2.3" height="2.4" fill="#e0e0e0"/>
<circle cx="365.6" cy="274.5" r="0.8" fill="#8a8a8a"/>
<circle cx="382.4" cy="274.5" r="0.8" fill="#8a8a8a"/>
<rect x="390.8" y="268.1" width="53.2" height="50.4" fill="#a9a9a9" stroke="#4a4a4a" stroke-width="0.7"/>
<rect x="391.5" y="268.4" width="52" height="2.1" fill="#9a9a9a"/>
<rect x="391.5" y="316" width="52" height="2.3" fill="#9a9a9a"/>
<rect x="392.2" y="270.5" width="1.1" height="45.5" fill="#8a8a8a"/>
<rect x="396.8" y="274" width="3.2" height="7.5" fill="#c4c4c4" stroke="#666" stroke-width="0.5" rx="1"/>
<rect x="396.8" y="305" width="3.2" height="7.5" fill="#c4c4c4" stroke="#666" stroke-width="0.5" rx="1"/>
<path d="M412.1 275.4 L434.6 277.1 A5 5 0 0 1 434.6 287.1 L412.1 288.9 Z" fill="#b2b2b2" stroke="#505050" stroke-width="1.3" stroke-linejoin="round"/>
<line x1="429.2" y1="277.8" x2="429.2" y2="286.5" stroke="#606060" stroke-width="0.7"/>
<rect x="432" y="278.8" width="3" height="6.6" fill="#dcdcdc"/>
<path d="M412.1 298.3 L434.6 300 A5 5 0 0 1 434.6 310 L412.1 311.8 Z" fill="#b2b2b2" stroke="#505050" stroke-width="1.3" stroke-linejoin="round"/>
<line x1="429.2" y1="300.7" x2="429.2" y2="309.4" stroke="#606060" stroke-width="0.7"/>
<rect x="432" y="301.7" width="3" height="6.6" fill="#dcdcdc"/>
<path d="M422.5 290.2 L436.2 290.2 Q437.2 291.2 436.2 292.1 L426 292.1 L426 295.3 L436.2 295.3 Q437.2 296.3 436.2 297.3 L422.5 297.3 Q419.6 297.3 419.6 293.8 Q419.6 290.2 422.5 290.2 Z" fill="#b0b0b0" stroke="#505050" stroke-width="1" stroke-linejoin="round"/>
<circle cx="423" cy="293.8" r="0.7" fill="#e0e0e0"/>
<circle cx="426.4" cy="293.8" r="0.7" fill="#e0e0e0"/>
<rect x="363.9" y="332.2" width="82.3" height="60" fill="#969fb2" stroke="#4a4e5a" stroke-width="0.8" rx="0.8"/>
<rect x="364.2" y="332.8" width="81.8" height="1.2" fill="#868da0"/>
<rect x="364.2" y="390.6" width="81.8" height="1.2" fill="#80879a"/>
<rect x="364.2" y="333" width="1.6" height="58.5" fill="#5a5f6e"/>
<rect x="364.3" y="340" width="1.4" height="3.5" fill="#8a91a4"/>
<rect x="364.3" y="352" width="1.4" height="3.5" fill="#8a91a4"/>
<rect x="364.3" y="363.5" width="1.4" height="3.5" fill="#8a91a4"/>
<rect x="364.3" y="376" width="1.4" height="3.5" fill="#8a91a4"/>
<rect x="365.8" y="333.5" width="1.8" height="57.5" fill="#a3aabd"/>
<rect x="444" y="333" width="2" height="58.5" fill="#7a8092"/>
<circle cx="393.5" cy="332" r="1.5" fill="#ffffff"/>
<circle cx="393.5" cy="392.3" r="1.5" fill="#ffffff"/>
<rect x="405.9" y="400.9" width="25" height="40.6" fill="#a9a9a9" stroke="#3e3e3e" stroke-width="0.7"/>
<rect x="406.3" y="401.3" width="2.5" height="39.8" fill="#bababa"/>
<rect x="408.8" y="401.3" width="3.9" height="39.8" fill="#9c9c9c"/>
<rect x="412.7" y="401.3" width="1.4" height="39.8" fill="#5e5e5e"/>
<rect x="414.1" y="401.3" width="10.7" height="39.8" fill="#b6b6b6"/>
<rect x="424.8" y="401.3" width="1.4" height="39.8" fill="#5e5e5e"/>
<rect x="426.2" y="401.3" width="2.1" height="39.8" fill="#a4a4a4"/>
<rect x="428.3" y="401.3" width="2.2" height="39.8" fill="#bdbdbd"/>
<line x1="407.6" y1="401.3" x2="407.6" y2="441.1" stroke="#8a8a8a" stroke-width="0.4"/>
<line x1="410.2" y1="401.3" x2="410.2" y2="441.1" stroke="#8a8a8a" stroke-width="0.4"/>
<line x1="411.5" y1="401.3" x2="411.5" y2="441.1" stroke="#8a8a8a" stroke-width="0.4"/>
<line x1="429.2" y1="401.3" x2="429.2" y2="441.1" stroke="#8a8a8a" stroke-width="0.4"/>
<circle cx="419.3" cy="406.6" r="3.9" fill="#8e8e8e" stroke="#383838" stroke-width="0.9"/>
<line x1="417.3" y1="406.6" x2="421.3" y2="406.6" stroke="#c8c8c8" stroke-width="0.8"/>
<line x1="419.3" y1="404.6" x2="419.3" y2="408.6" stroke="#c8c8c8" stroke-width="0.8"/>
<circle cx="419.3" cy="415.8" r="3.9" fill="#8e8e8e" stroke="#383838" stroke-width="0.9"/>
<line x1="417.3" y1="415.8" x2="421.3" y2="415.8" stroke="#c8c8c8" stroke-width="0.8"/>
<line x1="419.3" y1="413.8" x2="419.3" y2="417.8" stroke="#c8c8c8" stroke-width="0.8"/>
<circle cx="419.3" cy="425.4" r="3.9" fill="#8e8e8e" stroke="#383838" stroke-width="0.9"/>
<line x1="417.3" y1="425.4" x2="421.3" y2="425.4" stroke="#c8c8c8" stroke-width="0.8"/>
<line x1="419.3" y1="423.4" x2="419.3" y2="427.4" stroke="#c8c8c8" stroke-width="0.8"/>
<circle cx="419.3" cy="435.1" r="3.9" fill="#8e8e8e" stroke="#383838" stroke-width="0.9"/>
<line x1="417.3" y1="435.1" x2="421.3" y2="435.1" stroke="#c8c8c8" stroke-width="0.8"/>
<line x1="419.3" y1="433.1" x2="419.3" y2="437.1" stroke="#c8c8c8" stroke-width="0.8"/>
<rect x="400" y="451.9" width="3.5" height="3.7" fill="#e8e8e8" stroke="#777" stroke-width="0.4"/>
<rect x="426" y="451.9" width="3.4" height="3.7" fill="#e8e8e8" stroke="#777" stroke-width="0.4"/>
<rect x="403" y="447.3" width="23.3" height="13" fill="#efefef" stroke="#6a6a6a" stroke-width="0.6"/>
<rect x="408.5" y="450.5" width="12.5" height="6.3" fill="#d6a52a" stroke="#4a3a10" stroke-width="0.8"/>
<rect x="387.3" y="469.4" width="21.1" height="6.6" fill="#a8a8a8" stroke="#555" stroke-width="0.6" rx="1.5"/>
<rect x="364.3" y="426.5" width="23.5" height="31.8" fill="#b5b5b5" stroke="#4e4e4e" stroke-width="0.6"/>
<rect x="366.5" y="430" width="1.5" height="4.5" fill="#555"/>
<rect x="384" y="448" width="2.5" height="10" fill="#8a8a8a"/>
<rect x="364.3" y="458.3" width="24" height="13.1" fill="#a9a9a9" stroke="#4e4e4e" stroke-width="0.6"/>
<rect x="365.9" y="471.4" width="19.8" height="8.1" fill="#ababab" stroke="#555" stroke-width="0.6" rx="1"/>
<path d="M371 462.8 L380.7 462.8 L379 471 L377 476 L374.5 476 L372.5 471 Z" fill="#b8b8b8" stroke="#4e4e4e" stroke-width="0.6"/>
<path d="M361 427.6 h3.3 v3.4 h-3.3 l1.3 -1.7 Z" fill="#e4e4e4" stroke="#666" stroke-width="0.4"/>
<path d="M361 435.6 h3.3 v3.4 h-3.3 l1.3 -1.7 Z" fill="#e4e4e4" stroke="#666" stroke-width="0.4"/>
<path d="M361 462 h3.3 v3.4 h-3.3 l1.3 -1.7 Z" fill="#e4e4e4" stroke="#666" stroke-width="0.4"/>
<path d="M387.8 429.6 h3.3 l-1.3 1.7 l1.3 1.7 h-3.3 Z" fill="#e4e4e4" stroke="#666" stroke-width="0.4"/>
<path d="M387.8 450.6 h3.3 l-1.3 1.7 l1.3 1.7 h-3.3 Z" fill="#e4e4e4" stroke="#666" stroke-width="0.4"/>
<path d="M387.8 462.6 h3.3 l-1.3 1.7 l1.3 1.7 h-3.3 Z" fill="#e4e4e4" stroke="#666" stroke-width="0.4"/>
<rect x="228.6" y="460" width="5.8" height="7.5" fill="#bdbdbd" stroke="#555" stroke-width="0.5"/>
<rect x="268.7" y="460" width="6.2" height="7.5" fill="#bdbdbd" stroke="#555" stroke-width="0.5"/>
<circle cx="231.2" cy="463.7" r="1.3" fill="#555"/>
<circle cx="271.9" cy="463.7" r="1.3" fill="#555"/>
<rect x="232.1" y="444.7" width="2.3" height="9" fill="#c0c0c0" stroke="#666" stroke-width="0.4"/>
<rect x="268.7" y="444.7" width="2.5" height="9" fill="#c0c0c0" stroke="#666" stroke-width="0.4"/>
<rect x="234.4" y="441" width="34.3" height="36.7" fill="#ababab" stroke="#4e4e4e" stroke-width="0.6"/>
<rect x="235" y="441.5" width="3.2" height="35.7" fill="#b9b9b9" stroke="#6a6a6a" stroke-width="0.4"/>
<rect x="264.9" y="441.5" width="3.2" height="35.7" fill="#b9b9b9" stroke="#6a6a6a" stroke-width="0.4"/>
<line x1="238.4" y1="468.5" x2="264.7" y2="468.5" stroke="#666" stroke-width="0.6"/>
<path d="M249.4 468.5 l0 3 l3 0 l0 6" fill="none" stroke="#666" stroke-width="0.5"/>
<circle cx="240.9" cy="448.5" r="1.1" fill="none" stroke="#666" stroke-width="0.5"/>
<circle cx="262.2" cy="448.5" r="1.1" fill="none" stroke="#666" stroke-width="0.5"/>
<circle cx="240.9" cy="467" r="1.1" fill="none" stroke="#666" stroke-width="0.5"/>
<circle cx="251.55" cy="467" r="1.1" fill="none" stroke="#666" stroke-width="0.5"/>
<circle cx="262.2" cy="467" r="1.1" fill="none" stroke="#666" stroke-width="0.5"/>
<rect x="246.4" y="441" width="10" height="2.5" fill="#b5b5b5" stroke="#666" stroke-width="0.4" rx="1"/>
<rect x="285.45" y="460" width="5.8" height="7.5" fill="#bdbdbd" stroke="#555" stroke-width="0.5"/>
<rect x="325.55" y="460" width="6.2" height="7.5" fill="#bdbdbd" stroke="#555" stroke-width="0.5"/>
<circle cx="288.05" cy="463.7" r="1.3" fill="#555"/>
<circle cx="328.75" cy="463.7" r="1.3" fill="#555"/>
<rect x="288.95" y="444.7" width="2.3" height="9" fill="#c0c0c0" stroke="#666" stroke-width="0.4"/>
<rect x="325.55" y="444.7" width="2.5" height="9" fill="#c0c0c0" stroke="#666" stroke-width="0.4"/>
<rect x="291.25" y="441" width="34.3" height="36.7" fill="#ababab" stroke="#4e4e4e" stroke-width="0.6"/>
<rect x="291.85" y="441.5" width="3.2" height="35.7" fill="#b9b9b9" stroke="#6a6a6a" stroke-width="0.4"/>
<rect x="321.75" y="441.5" width="3.2" height="35.7" fill="#b9b9b9" stroke="#6a6a6a" stroke-width="0.4"/>
<line x1="295.25" y1="468.5" x2="321.55" y2="468.5" stroke="#666" stroke-width="0.6"/>
<path d="M306.25 468.5 l0 3 l3 0 l0 6" fill="none" stroke="#666" stroke-width="0.5"/>
<circle cx="297.75" cy="448.5" r="1.1" fill="none" stroke="#666" stroke-width="0.5"/>
<circle cx="319.05" cy="448.5" r="1.1" fill="none" stroke="#666" stroke-width="0.5"/>
<circle cx="297.75" cy="467" r="1.1" fill="none" stroke="#666" stroke-width="0.5"/>
<circle cx="308.4" cy="467" r="1.1" fill="none" stroke="#666" stroke-width="0.5"/>
<circle cx="319.05" cy="467" r="1.1" fill="none" stroke="#666" stroke-width="0.5"/>
<rect x="303.25" y="441" width="10" height="2.5" fill="#b5b5b5" stroke="#666" stroke-width="0.4" rx="1"/>
<rect x="145" y="457.5" width="5" height="8.1" fill="#d0d0d0" stroke="#666" stroke-width="0.4"/>
<rect x="208" y="457.5" width="5" height="8.1" fill="#d0d0d0" stroke="#666" stroke-width="0.4"/>
<rect x="150" y="438.5" width="58.1" height="39.3" fill="#a9a9a9" stroke="#4e4e4e" stroke-width="0.6"/>
<rect x="150.5" y="439" width="2.6" height="38.3" fill="#b8b8b8" stroke="#666" stroke-width="0.4"/>
<rect x="204.9" y="439" width="2.7" height="38.3" fill="#b8b8b8" stroke="#666" stroke-width="0.4"/>
<path d="M161.8 454.3 L171.9 454.3 L170.9 472.0 Q170.9 473.8 169.1 473.8 L164.6 473.8 Q162.8 473.8 162.8 472.0 Z" fill="#b9b9b9" stroke="#505050" stroke-width="0.7"/>
<line x1="163.1" y1="455" x2="163.7" y2="471.5" stroke="#6a6a6a" stroke-width="1.5"/>
<line x1="170.6" y1="455" x2="170" y2="471.5" stroke="#6a6a6a" stroke-width="1.5"/>
<line x1="164" y1="456.6" x2="169.7" y2="456.6" stroke="#505050" stroke-width="0.7"/>
<rect x="163.2" y="469" width="7.3" height="4.4" fill="#7e7e7e" stroke="#3e3e3e" stroke-width="0.6" rx="1.4"/>
<circle cx="165.6" cy="472.3" r="0.7" fill="#f0f0f0"/>
<path d="M186.3 454.3 L196.4 454.3 L195.4 472.0 Q195.4 473.8 193.6 473.8 L189.1 473.8 Q187.3 473.8 187.3 472.0 Z" fill="#b9b9b9" stroke="#505050" stroke-width="0.7"/>
<line x1="187.6" y1="455" x2="188.2" y2="471.5" stroke="#6a6a6a" stroke-width="1.5"/>
<line x1="195.1" y1="455" x2="194.5" y2="471.5" stroke="#6a6a6a" stroke-width="1.5"/>
<line x1="188.5" y1="456.6" x2="194.2" y2="456.6" stroke="#505050" stroke-width="0.7"/>
<rect x="187.7" y="469" width="7.3" height="4.4" fill="#7e7e7e" stroke="#3e3e3e" stroke-width="0.6" rx="1.4"/>
<circle cx="190.1" cy="472.3" r="0.7" fill="#f0f0f0"/>
<text x="0" y="0" font-size="20" font-weight="bold" fill="#2e2e2e" transform="translate(177.0 455.0) rotate(90) scale(0.336 0.40)">ACON</text>
<circle cx="124.5" cy="269.5" r="5.1" fill="#ffffff" stroke="#0a4a04" stroke-width="0.5"/>
<line x1="110.5" y1="269.5" x2="138.5" y2="269.5" stroke="rgba(0,0,0,0.75)" stroke-width="0.5"/>
<line x1="124.5" y1="254.5" x2="124.5" y2="284.5" stroke="rgba(0,0,0,0.75)" stroke-width="0.5"/>
<circle cx="345" cy="269.5" r="5.1" fill="#ffffff" stroke="#0a4a04" stroke-width="0.5"/>
<line x1="331" y1="269.5" x2="359" y2="269.5" stroke="rgba(0,0,0,0.75)" stroke-width="0.5"/>
<line x1="345" y1="254.5" x2="345" y2="284.5" stroke="rgba(0,0,0,0.75)" stroke-width="0.5"/>
<circle cx="124.5" cy="456" r="5.1" fill="#ffffff" stroke="#0a4a04" stroke-width="0.5"/>
<line x1="110.5" y1="456" x2="138.5" y2="456" stroke="rgba(0,0,0,0.75)" stroke-width="0.5"/>
<line x1="124.5" y1="441" x2="124.5" y2="471" stroke="rgba(0,0,0,0.75)" stroke-width="0.5"/>
<circle cx="345" cy="456" r="5.1" fill="#ffffff" stroke="#0a4a04" stroke-width="0.5"/>
<line x1="331" y1="456" x2="359" y2="456" stroke="rgba(0,0,0,0.75)" stroke-width="0.5"/>
<line x1="345" y1="441" x2="345" y2="471" stroke="rgba(0,0,0,0.75)" stroke-width="0.5"/>
<rect x="536.6" y="304.6" width="23.1" height="5.4" fill="#d9d9d9" stroke="#7a7a7a" stroke-width="0.6"/>
<rect x="536.9" y="304.9" width="1.1" height="4.8" fill="#8e8e8e"/>
<rect x="560.5" y="304.6" width="8.7" height="5.4" fill="#fdfdfd" stroke="#9a9a9a" stroke-width="0.4"/>
<rect x="536.6" y="317" width="23.1" height="5.4" fill="#d9d9d9" stroke="#7a7a7a" stroke-width="0.6"/>
<rect x="536.9" y="317.3" width="1.1" height="4.8" fill="#8e8e8e"/>
<rect x="560.5" y="317" width="8.7" height="5.4" fill="#fdfdfd" stroke="#9a9a9a" stroke-width="0.4"/>
<rect x="536.6" y="329.2" width="23.1" height="5.2" fill="#d9d9d9" stroke="#7a7a7a" stroke-width="0.6"/>
<rect x="536.9" y="329.5" width="1.1" height="4.6" fill="#8e8e8e"/>
<rect x="560.5" y="329.2" width="8.7" height="5.2" fill="#fdfdfd" stroke="#9a9a9a" stroke-width="0.4"/>
<rect x="536.6" y="341.3" width="23.1" height="5.1" fill="#d9d9d9" stroke="#7a7a7a" stroke-width="0.6"/>
<rect x="536.9" y="341.6" width="1.1" height="4.5" fill="#8e8e8e"/>
<rect x="560.5" y="341.3" width="8.7" height="5.1" fill="#fdfdfd" stroke="#9a9a9a" stroke-width="0.4"/>
<rect x="536.6" y="353.5" width="23.1" height="5.3" fill="#d9d9d9" stroke="#7a7a7a" stroke-width="0.6"/>
<rect x="536.9" y="353.8" width="1.1" height="4.7" fill="#8e8e8e"/>
<rect x="560.5" y="353.5" width="8.7" height="5.3" fill="#fdfdfd" stroke="#9a9a9a" stroke-width="0.4"/>
<rect x="536.6" y="366" width="23.1" height="5.2" fill="#d9d9d9" stroke="#7a7a7a" stroke-width="0.6"/>
<rect x="536.9" y="366.3" width="1.1" height="4.6" fill="#8e8e8e"/>
<rect x="560.5" y="366" width="8.7" height="5.2" fill="#fdfdfd" stroke="#9a9a9a" stroke-width="0.4"/>
<rect x="536.6" y="378.3" width="23.1" height="5.1" fill="#d9d9d9" stroke="#7a7a7a" stroke-width="0.6"/>
<rect x="536.9" y="378.6" width="1.1" height="4.5" fill="#8e8e8e"/>
<rect x="560.5" y="378.3" width="8.7" height="5.1" fill="#fdfdfd" stroke="#9a9a9a" stroke-width="0.4"/>
<rect x="536.6" y="391.2" width="23.1" height="5.4" fill="#d9d9d9" stroke="#7a7a7a" stroke-width="0.6"/>
<rect x="536.9" y="391.5" width="1.1" height="4.8" fill="#8e8e8e"/>
<rect x="560.5" y="391.2" width="8.7" height="5.4" fill="#fdfdfd" stroke="#9a9a9a" stroke-width="0.4"/>
<rect x="536.6" y="402.8" width="23.1" height="6.2" fill="#d9d9d9" stroke="#7a7a7a" stroke-width="0.6"/>
<rect x="536.9" y="403.1" width="1.1" height="5.6" fill="#8e8e8e"/>
<rect x="560.5" y="402.8" width="8.7" height="6.2" fill="#fdfdfd" stroke="#9a9a9a" stroke-width="0.4"/>
<rect x="536.6" y="415.3" width="23.1" height="5.4" fill="#d9d9d9" stroke="#7a7a7a" stroke-width="0.6"/>
<rect x="536.9" y="415.6" width="1.1" height="4.8" fill="#8e8e8e"/>
<rect x="560.5" y="415.3" width="8.7" height="5.4" fill="#fdfdfd" stroke="#9a9a9a" stroke-width="0.4"/>
<rect x="569.2" y="303.5" width="8.8" height="135.8" fill="#505050" stroke="#3a3a3a" stroke-width="0.5"/>
<rect x="532.5" y="310.5" width="45" height="5.6" fill="#505050" stroke="#3a3a3a" stroke-width="0.4" rx="0.6"/>
<rect x="532.5" y="323.1" width="45" height="5.7" fill="#505050" stroke="#3a3a3a" stroke-width="0.4" rx="0.6"/>
<rect x="532.5" y="335.2" width="45" height="5.1" fill="#505050" stroke="#3a3a3a" stroke-width="0.4" rx="0.6"/>
<rect x="532.5" y="347.3" width="45" height="5.2" fill="#505050" stroke="#3a3a3a" stroke-width="0.4" rx="0.6"/>
<rect x="532.5" y="360" width="45" height="5.1" fill="#505050" stroke="#3a3a3a" stroke-width="0.4" rx="0.6"/>
<rect x="532.5" y="372.2" width="45" height="5.1" fill="#505050" stroke="#3a3a3a" stroke-width="0.4" rx="0.6"/>
<rect x="532.5" y="384.4" width="45" height="5.2" fill="#505050" stroke="#3a3a3a" stroke-width="0.4" rx="0.6"/>
<rect x="532.7" y="397" width="44.8" height="5" fill="#505050" stroke="#3a3a3a" stroke-width="0.4" rx="0.6"/>
<rect x="532.7" y="409.8" width="44.8" height="4.7" fill="#505050" stroke="#3a3a3a" stroke-width="0.4" rx="0.6"/>
<rect x="543.5" y="422.2" width="34" height="4.7" fill="#505050" stroke="#3a3a3a" stroke-width="0.4" rx="0.6"/>
<rect x="543.5" y="433.9" width="34" height="5.4" fill="#505050" stroke="#3a3a3a" stroke-width="0.4" rx="0.6"/>
<rect x="543.5" y="285.4" width="33.7" height="6.3" fill="#a9a9a9" stroke="#5a5a5a" stroke-width="0.6" rx="1.2"/>
<rect x="569.2" y="291.2" width="8" height="12.2" fill="#a4a4a4" stroke="#5a5a5a" stroke-width="0.5"/>
<line x1="569.5" y1="294" x2="577" y2="294" stroke="#8a8a8a" stroke-width="0.5"/>
<line x1="569.5" y1="297" x2="577" y2="297" stroke="#8a8a8a" stroke-width="0.5"/>
<line x1="569.5" y1="300" x2="577" y2="300" stroke="#8a8a8a" stroke-width="0.5"/>
<rect x="543.7" y="298.3" width="25.5" height="5.1" fill="#b7d5b7" stroke="#6a6a6a" stroke-width="0.6" rx="1.5"/>
<rect x="578.5" y="287" width="3.8" height="16.3" fill="#d8bc10" stroke="#7a6a00" stroke-width="0.4"/>
<rect x="578.5" y="304" width="8.5" height="27" fill="#64bcd8"/>
<rect x="578.5" y="392.8" width="8.9" height="8.5" fill="#64bcd8"/>
<rect x="588.5" y="304" width="3.5" height="27" fill="#2a9a78"/>
<rect x="588.5" y="392.8" width="3.5" height="8.5" fill="#2a9a78"/>
<rect x="593.6" y="318" width="6.2" height="13" fill="#1040d8"/>
<rect x="593.6" y="392.8" width="6.2" height="8.5" fill="#1040d8"/>
<rect x="587" y="304" width="1.5" height="27" fill="#8a7a30"/>
<rect x="572.7" y="262" width="21.5" height="2.6" fill="#d6bb10" stroke="#8a7a00" stroke-width="0.4" rx="1.3"/>
<rect x="572.7" y="271.9" width="9.8" height="2.6" fill="#d6bb10" stroke="#8a7a00" stroke-width="0.4" rx="1.3"/>
<rect x="593.5" y="251" width="10.5" height="14.3" fill="#e2e2e2" stroke="#6a6a6a" stroke-width="0.5"/>
<path d="M593.5 251 l-0.8 -1.5 M604 251 l0.8 -1.5" fill="none" stroke="#6a6a6a" stroke-width="0.5"/>
<circle cx="600.3" cy="259.7" r="2.8" fill="none" stroke="#777" stroke-width="0.5"/>
<rect x="582.3" y="266.6" width="21.5" height="51.9" fill="#585858" stroke="#2e2e2e" stroke-width="0.9" rx="2.5"/>
<rect x="585.6" y="269.6" width="10.1" height="45.4" fill="#6c6c6c" stroke="#3a3a3a" stroke-width="0.6" rx="1.5"/>
<rect x="586.3" y="272" width="4.8" height="40.4" fill="#7e7e7e" stroke="#444" stroke-width="0.5" rx="1.2"/>
<path d="M591.1 278.7 A1.5 1.5 0 0 1 591.1 281.7" fill="#4a4a4a" stroke="#3a3a3a" stroke-width="0.5"/>
<path d="M591.1 287.7 A1.5 1.5 0 0 1 591.1 290.7" fill="#4a4a4a" stroke="#3a3a3a" stroke-width="0.5"/>
<path d="M591.1 295.8 A1.5 1.5 0 0 1 591.1 298.8" fill="#4a4a4a" stroke="#3a3a3a" stroke-width="0.5"/>
<path d="M591.1 303.9 A1.5 1.5 0 0 1 591.1 306.9" fill="#4a4a4a" stroke="#3a3a3a" stroke-width="0.5"/>
<rect x="599.7" y="278.6" width="3" height="5.1" fill="#a8a8a8" stroke="#333" stroke-width="0.5" rx="1.2"/>
<rect x="582.6" y="278.6" width="2.3" height="5.1" fill="#9a9a9a" stroke="#333" stroke-width="0.5" rx="1"/>
<rect x="599.7" y="300.8" width="3" height="5.6" fill="#a8a8a8" stroke="#333" stroke-width="0.5" rx="1.2"/>
<rect x="582.6" y="300.8" width="2.3" height="5.6" fill="#9a9a9a" stroke="#333" stroke-width="0.5" rx="1"/>
<rect x="603.8" y="254.8" width="4.2" height="214.8" fill="#0d6c03" stroke="#063f02" stroke-width="0.4"/>
<rect x="552.4" y="332.1" width="47.6" height="59.1" fill="#8a8fa0" stroke="#3e424e" stroke-width="0.8"/>
<rect x="564.4" y="336.5" width="29.6" height="49.8" fill="#9398a8" stroke="#4a4e5a" stroke-width="0.8"/>
<rect x="566" y="338.5" width="26.5" height="46" fill="none" stroke="#5a5e6a" stroke-width="0.5"/>
<rect x="555.7" y="349.6" width="19.1" height="24.1" fill="#9094a4" stroke="#4a4e5a" stroke-width="0.8"/>
<rect x="572" y="350.5" width="2.5" height="22" fill="#7c8090"/>
<text x="558.8" y="366.5" font-size="10" font-weight="bold" fill="#4a4e5a">Z</text>
<rect x="581" y="349" width="10.8" height="1.8" fill="#7a7e8e" stroke="#4a4e5a" stroke-width="0.4"/>
<rect x="581" y="352.55" width="10.8" height="1.8" fill="#7a7e8e" stroke="#4a4e5a" stroke-width="0.4"/>
<rect x="581" y="356.1" width="10.8" height="1.8" fill="#7a7e8e" stroke="#4a4e5a" stroke-width="0.4"/>
<rect x="581" y="359.65" width="10.8" height="1.8" fill="#7a7e8e" stroke="#4a4e5a" stroke-width="0.4"/>
<rect x="581" y="363.2" width="10.8" height="1.8" fill="#7a7e8e" stroke="#4a4e5a" stroke-width="0.4"/>
<rect x="581" y="366.75" width="10.8" height="1.8" fill="#7a7e8e" stroke="#4a4e5a" stroke-width="0.4"/>
<rect x="581" y="370.3" width="10.8" height="1.8" fill="#7a7e8e" stroke="#4a4e5a" stroke-width="0.4"/>
<rect x="581" y="373.85" width="10.8" height="1.8" fill="#7a7e8e" stroke="#4a4e5a" stroke-width="0.4"/>
<rect x="556.4" y="335.5" width="4.6" height="8" fill="#8a8fa0" stroke="#555a66" stroke-width="0.5" rx="1"/>
<rect x="556.4" y="380" width="4.6" height="8" fill="#8a8fa0" stroke="#555a66" stroke-width="0.5" rx="1"/>
<rect x="575.5" y="334.6" width="10" height="2.4" fill="#8e93a4" stroke="#555a66" stroke-width="0.5" rx="1"/>
<rect x="575.5" y="385.5" width="10" height="2.5" fill="#8e93a4" stroke="#555a66" stroke-width="0.5" rx="1"/>
<rect x="600" y="331" width="3.8" height="61" fill="#a5a5a5" stroke="#666" stroke-width="0.4"/>
<rect x="573" y="402" width="14.7" height="39.6" fill="#c2c2c2" stroke="#666" stroke-width="0.5"/>
<rect x="587.7" y="402" width="13.3" height="39.3" fill="#a9a9a9" stroke="#555" stroke-width="0.5"/>
<path d="M589 402.7 h10.5 l-1.5 4 l1.5 4.5 h-10.5 l1.5 -4.5 Z" fill="#bcbcbc" stroke="#666" stroke-width="0.4"/>
<path d="M589 412.5 h10.5 l-1.5 4 l1.5 4.5 h-10.5 l1.5 -4.5 Z" fill="#bcbcbc" stroke="#666" stroke-width="0.4"/>
<path d="M589 422.3 h10.5 l-1.5 4 l1.5 4.5 h-10.5 l1.5 -4.5 Z" fill="#bcbcbc" stroke="#666" stroke-width="0.4"/>
<path d="M589 432.1 h10.5 l-1.5 4 l1.5 4.5 h-10.5 l1.5 -4.5 Z" fill="#bcbcbc" stroke="#666" stroke-width="0.4"/>
<rect x="586.2" y="441.6" width="17.1" height="31.1" fill="#b0b0b0" stroke="#555" stroke-width="0.5"/>
<rect x="585.4" y="472.7" width="18.6" height="7.6" fill="#a8a8a8" stroke="#555" stroke-width="0.5" rx="1.5"/>
<rect x="585.4" y="452.5" width="3.1" height="4.7" fill="#d2a020" stroke="#6a5010" stroke-width="0.4" rx="0.8"/>
<rect x="592" y="447" width="9" height="9" fill="#c0c0c0" stroke="#666" stroke-width="0.4"/>
<rect x="591.5" y="462" width="6" height="6.5" fill="#c8c8c8" stroke="#555" stroke-width="0.5"/>
<circle cx="594.5" cy="465" r="1.2" fill="#f0f0f0"/>
<rect x="608" y="276" width="3.5" height="24" fill="#a5a5a5" stroke="#555" stroke-width="0.4"/>
<rect x="608" y="300.5" width="2.8" height="18.5" fill="#a5a5a5" stroke="#555" stroke-width="0.4"/>
<rect x="608" y="319.5" width="4.5" height="10.5" fill="#a5a5a5" stroke="#555" stroke-width="0.4"/>
<rect x="608" y="330.5" width="6.5" height="14.5" fill="#a5a5a5" stroke="#555" stroke-width="0.4"/>
<rect x="608" y="345.5" width="3.5" height="18.5" fill="#a5a5a5" stroke="#555" stroke-width="0.4"/>
<rect x="608" y="364.5" width="6" height="7.5" fill="#a5a5a5" stroke="#555" stroke-width="0.4"/>
<rect x="608" y="372.5" width="3" height="27.5" fill="#a5a5a5" stroke="#555" stroke-width="0.4"/>
<rect x="608" y="400" width="3.5" height="40" fill="#a5a5a5" stroke="#555" stroke-width="0.4"/>
<rect x="608" y="440.5" width="6.5" height="38" fill="#a5a5a5" stroke="#555" stroke-width="0.4"/>
<path d="M611.5 403.4 L616.2 405 L611.5 406.6 Z" fill="#9a9a9a" stroke="#555" stroke-width="0.4"/>
<path d="M611.5 412.4 L616.2 414 L611.5 415.6 Z" fill="#9a9a9a" stroke="#555" stroke-width="0.4"/>
<path d="M611.5 423.4 L616.2 425 L611.5 426.6 Z" fill="#9a9a9a" stroke="#555" stroke-width="0.4"/>
<path d="M611.5 433.4 L616.2 435 L611.5 436.6 Z" fill="#9a9a9a" stroke="#555" stroke-width="0.4"/>
<rect x="612" y="419" width="3.8" height="10" fill="#b0b0b0" stroke="#666" stroke-width="0.4"/>
<line x1="608.5" y1="448" x2="614" y2="448" stroke="#666" stroke-width="0.5"/>
<line x1="608.5" y1="456" x2="614" y2="456" stroke="#666" stroke-width="0.5"/>
<line x1="608.5" y1="463" x2="614" y2="463" stroke="#666" stroke-width="0.5"/>
<line x1="608.5" y1="471" x2="614" y2="471" stroke="#666" stroke-width="0.5"/>
<rect x="604" y="469.6" width="4" height="8.9" fill="#9a9a9a" stroke="#555" stroke-width="0.4"/>
<rect x="601" y="472" width="3" height="6.5" fill="#b0b0b0" stroke="#555" stroke-width="0.4"/>
<line x1="111.4" y1="132.8" x2="111.4" y2="262" stroke="rgba(255,0,24,0.45)" stroke-width="1"/>
<line x1="124.5" y1="178.6" x2="124.5" y2="249.5" stroke="rgba(255,0,24,0.45)" stroke-width="1"/>
<line x1="345.1" y1="178.5" x2="345.1" y2="250" stroke="rgba(255,0,24,0.45)" stroke-width="1"/>
<line x1="434.4" y1="155.6" x2="434.4" y2="263" stroke="rgba(255,0,24,0.45)" stroke-width="1"/>
<line x1="446.3" y1="132.8" x2="446.3" y2="329.4" stroke="rgba(255,0,24,0.45)" stroke-width="1"/>
<line x1="111.4" y1="145.1" x2="446.3" y2="145.1" stroke="rgba(255,0,24,0.45)" stroke-width="1"/>
<path d="M111.4 145.1L124.1 142.9L124.1 147.3Z" fill="#ff0000"/>
<path d="M446.3 145.1L433.6 147.3L433.6 142.9Z" fill="#ff0000"/>
<line x1="111.4" y1="167.9" x2="434.4" y2="167.9" stroke="rgba(255,0,24,0.45)" stroke-width="1"/>
<path d="M111.4 167.9L124.1 165.7L124.1 170.1Z" fill="#ff0000"/>
<path d="M434.4 167.9L421.7 170.1L421.7 165.7Z" fill="#ff0000"/>
<line x1="124.5" y1="190.9" x2="345.1" y2="190.9" stroke="rgba(255,0,24,0.45)" stroke-width="1"/>
<path d="M124.5 190.9L137.2 188.7L137.2 193.1Z" fill="#ff0000"/>
<path d="M345.1 190.9L332.4 193.1L332.4 188.7Z" fill="#ff0000"/>
<line x1="93" y1="213.6" x2="226.8" y2="213.6" stroke="rgba(255,0,24,0.45)" stroke-width="1"/>
<path d="M111.4 213.6L98.7 215.8L98.7 211.4Z" fill="#ff0000"/>
<path d="M124.5 213.6L137.2 211.4L137.2 215.8Z" fill="#ff0000"/>
<line x1="15" y1="251.6" x2="358.7" y2="251.6" stroke="rgba(255,0,24,0.45)" stroke-width="1"/>
<line x1="38" y1="256.4" x2="118" y2="256.4" stroke="rgba(255,0,24,0.45)" stroke-width="1"/>
<line x1="61" y1="269.5" x2="105" y2="269.5" stroke="rgba(255,0,24,0.45)" stroke-width="1"/>
<line x1="79.6" y1="456.3" x2="105" y2="456.3" stroke="rgba(255,0,24,0.45)" stroke-width="1"/>
<line x1="38" y1="469.3" x2="118" y2="469.3" stroke="rgba(255,0,24,0.45)" stroke-width="1"/>
<line x1="15" y1="479.4" x2="362" y2="479.4" stroke="rgba(255,0,24,0.45)" stroke-width="1"/>
<line x1="27.6" y1="251.6" x2="27.6" y2="479.4" stroke="rgba(255,0,24,0.45)" stroke-width="1"/>
<path d="M27.6 251.6L29.8 264.3L25.4 264.3Z" fill="#ff0000"/>
<path d="M27.6 479.4L25.4 466.7L29.8 466.7Z" fill="#ff0000"/>
<line x1="50.4" y1="256.4" x2="50.4" y2="469.3" stroke="rgba(255,0,24,0.45)" stroke-width="1"/>
<path d="M50.4 256.4L52.6 269.1L48.2 269.1Z" fill="#ff0000"/>
<path d="M50.4 469.3L48.2 456.6L52.6 456.6Z" fill="#ff0000"/>
<line x1="73.3" y1="232.6" x2="73.3" y2="346.4" stroke="rgba(255,0,24,0.45)" stroke-width="1"/>
<path d="M73.3 256.4L71.1 243.7L75.5 243.7Z" fill="#ff0000"/>
<path d="M73.3 269.5L75.5 282.2L71.1 282.2Z" fill="#ff0000"/>
<line x1="91.6" y1="269.5" x2="91.6" y2="456.3" stroke="rgba(255,0,24,0.45)" stroke-width="1"/>
<path d="M91.6 269.5L93.8 282.2L89.4 282.2Z" fill="#ff0000"/>
<path d="M91.6 456.3L89.4 443.6L93.8 443.6Z" fill="#ff0000"/>
<line x1="532.6" y1="176" x2="532.6" y2="405" stroke="rgba(255,0,24,0.45)" stroke-width="1"/>
<line x1="552.4" y1="212" x2="552.4" y2="332" stroke="rgba(255,0,24,0.45)" stroke-width="1"/>
<line x1="615.6" y1="176" x2="615.6" y2="440" stroke="rgba(255,0,24,0.45)" stroke-width="1"/>
<line x1="508.7" y1="188.4" x2="640" y2="188.4" stroke="rgba(255,0,24,0.45)" stroke-width="1"/>
<path d="M532.6 188.4L519.9 190.6L519.9 186.2Z" fill="#ff0000"/>
<path d="M615.6 188.4L628.3 186.2L628.3 190.6Z" fill="#ff0000"/>
<line x1="529" y1="224.4" x2="640" y2="224.4" stroke="rgba(255,0,24,0.45)" stroke-width="1"/>
<path d="M552.4 224.4L539.7 226.6L539.7 222.2Z" fill="#ff0000"/>
<path d="M615.6 224.4L628.3 222.2L628.3 226.6Z" fill="#ff0000"/>
<line x1="345" y1="269.4" x2="427.2" y2="187.2" stroke="rgba(255,0,24,0.45)" stroke-width="1"/>
<path d="M348.6 265.8L355.53 255.76L358.64 258.87Z" fill="#ff0000"/>
<text x="0" y="0" font-size="20" fill="#ff0000" transform="translate(213.8 141) scale(0.9010 0.8857)">88.10</text>
<text x="0" y="0" font-size="20" fill="#ff0000" transform="translate(225.88 164.2) scale(0.9171 0.8929)">85</text>
<text x="0" y="0" font-size="20" fill="#ff0000" transform="translate(214.72 186.8) scale(0.8809 0.8857)">2x 58</text>
<text x="0" y="0" font-size="20" fill="#ff0000" transform="translate(163.72 209.6) scale(0.8766 0.8929)">2x 3.50</text>
<text x="0" y="0" font-size="20" fill="#ff0000" transform="translate(559.93 184.5) scale(0.8688 0.8857)">22.38</text>
<text x="0" y="0" font-size="20" fill="#ff0000" transform="translate(561.13 220.4) scale(0.8442 0.8857)">17.08</text>
<text x="0" y="0" font-size="20" fill="#ff0000" transform="translate(24 411.09) rotate(-90) scale(0.8907 0.9643)">59.90</text>
<text x="0" y="0" font-size="20" fill="#ff0000" transform="translate(47 398.52) rotate(-90) scale(0.9171 0.9500)">56</text>
<text x="0" y="0" font-size="20" fill="#ff0000" transform="translate(70.1 341.78) rotate(-90) scale(0.8781 0.9857)">2x 3.50</text>
<text x="0" y="0" font-size="20" fill="#ff0000" transform="translate(88.2 409.67) rotate(-90) scale(0.8681 0.9429)">2x 49</text>
<g transform="translate(345 269.4) rotate(-45)"><text x="0" y="0" font-size="20" fill="#ff0000" transform="translate(33.59 -4) scale(0.8293 0.8714)">4x</text><circle cx="66.9" cy="-10.5" r="6.1" fill="none" stroke="rgba(255,0,24,0.45)" stroke-width="0.8"/><line x1="63.5" y1="-1.7" x2="70.4" y2="-18.9" stroke="rgba(255,0,24,0.45)" stroke-width="0.8"/><text x="0" y="0" font-size="20" fill="#ff0000" transform="translate(76.65 -4.2) scale(0.8514 0.8571)">2.75</text></g>
</svg>
</body></html>
